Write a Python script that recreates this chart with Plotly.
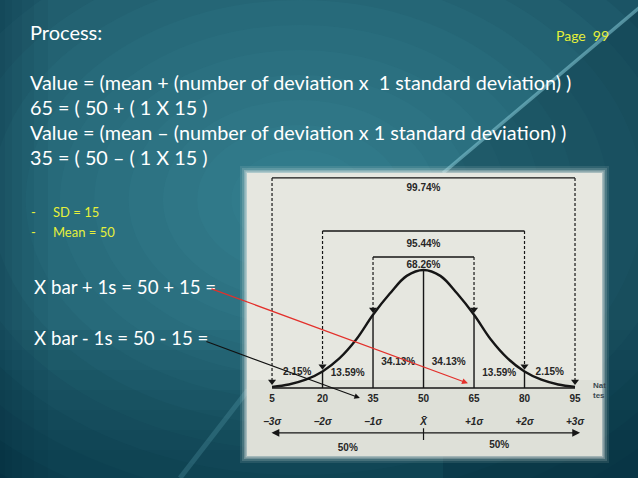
import plotly.graph_objects as go

W, H = 638, 478

# values
sd_x = [5, 20, 35, 50, 65, 80, 95]
sigma_labels = ['\u22123\u03c3', '\u22122\u03c3', '\u22121\u03c3', 'X\u0304', '+1\u03c3', '+2\u03c3', '+3\u03c3']
curve_x = [5, 10, 15, 20, 25, 30, 35, 40, 45, 50, 55, 60, 65, 70, 75, 80, 85, 90, 95]
curve_y = [0.01, 0.03, 0.07, 0.14, 0.25, 0.41, 0.62, 0.80, 0.95, 1.0,
           0.95, 0.80, 0.62, 0.41, 0.25, 0.14, 0.07, 0.03, 0.01]
band_labels = ['2.15%', '13.59%', '34.13%', '34.13%', '13.59%', '2.15%']
bracket_sd = [1, 2, 3]
bracket_labels = ['68.26%', '95.44%', '99.74%']
half_labels = ['50%', '50%']

mean, sd = 50, 15
height = dict(zip(curve_x, curve_y))

INK = '#161616'
TXT = '#262626'
CHART_FONT = 'Liberation Sans, Arial'
SLIDE_FONT = 'Lato, Open Sans, sans-serif'
YELLOW = '#e6f03a'


def px(x):
    return x / W


def py(y):
    return 1 - y / H


def chart_font(size=10):
    return dict(family=CHART_FONT, size=size, color=TXT)


fig = go.Figure()

# bell curve + baseline
fig.add_trace(go.Scatter(x=curve_x, y=curve_y, mode='lines',
                         line=dict(shape='spline', color=INK, width=2.4)))
fig.add_trace(go.Scatter(x=[sd_x[0], sd_x[-1]], y=[0, 0], mode='lines',
                         line=dict(color=INK, width=1.4)))

# solid lines under the curve at -2..+2 sd
vx, vy = [], []
for x in sd_x[1:-1]:
    vx += [x, x, None]
    vy += [0, height[x], None]
fig.add_trace(go.Scatter(x=vx, y=vy, mode='lines', line=dict(color=INK, width=1.4)))

# brackets with dashed drops and arrow tips
levels = [1.11, 1.33, 1.78]
label_y = [1.04, 1.22, 1.69]
bx, by, dx, dy, tx, ty = [], [], [], [], [], []
for k, lev in zip(bracket_sd, levels):
    lo, hi = mean - k * sd, mean + k * sd
    bx += [lo, hi, None]
    by += [lev, lev, None]
    for x in (lo, hi):
        dx += [x, x, None]
        dy += [lev, height[x] + 0.05, None]
        tx.append(x)
        ty.append(height[x] + 0.045)
fig.add_trace(go.Scatter(x=bx, y=by, mode='lines', line=dict(color=INK, width=1.3)))
fig.add_trace(go.Scatter(x=dx, y=dy, mode='lines',
                         line=dict(color=INK, width=1.2, dash='3px,2px')))
fig.add_trace(go.Scatter(x=tx, y=ty, mode='markers',
                         marker=dict(symbol='triangle-down', size=7, color=INK)))
fig.add_trace(go.Scatter(x=[mean] * 3, y=label_y, mode='text',
                         text=['<b>%s</b>' % t for t in bracket_labels],
                         textfont=chart_font(10)))

# band percentages
mids = [(a + b) / 2 for a, b in zip(sd_x[:-1], sd_x[1:])]
fig.add_trace(go.Scatter(x=mids, y=[0.13, 0.12, 0.22, 0.22, 0.12, 0.13], mode='text',
                         text=['<b>%s</b>' % t for t in band_labels],
                         textfont=chart_font(10)))

# raw score and sigma rows
fig.add_trace(go.Scatter(x=sd_x, y=[-0.10] * len(sd_x), mode='text',
                         text=['<b>%d</b>' % v for v in sd_x], textfont=chart_font(10)))
fig.add_trace(go.Scatter(x=sd_x, y=[-0.29] * len(sd_x), mode='text',
                         text=['<b><i>%s</i></b>' % s for s in sigma_labels],
                         textfont=chart_font(10)))

# 50% / 50% double arrow
fig.add_trace(go.Scatter(x=[mean, mean], y=[-0.34, -0.44], mode='lines',
                         line=dict(color=INK, width=1.2)))
fig.add_trace(go.Scatter(x=[(sd_x[0] + mean) / 2, (mean + sd_x[-1]) / 2], y=[-0.515, -0.49],
                         mode='text', text=['<b>%s</b>' % t for t in half_labels],
                         textfont=chart_font(10)))
fig.add_annotation(x=96.5, y=-0.38, ax=4.4, ay=-0.38, xref='x', yref='y', axref='x', ayref='y',
                   text='', showarrow=True, arrowside='end+start', arrowhead=2,
                   arrowsize=1.2, arrowwidth=1.3, arrowcolor=INK)

# cut-off side label of the photo
fig.add_annotation(x=px(591), y=py(402), xref='paper', yref='paper', xanchor='left',
                   text='<b>Nat<br>tes</b>', showarrow=False, align='left',
                   font=dict(family=CHART_FONT, size=8, color='#3a4a50'))

# slide background: dark teal with a soft light glow
shapes = []
for i in range(14):
    f = 1 - i / 14
    rx, ry = 480 * f, 350 * f
    shapes.append(dict(type='circle', x0=px(300 - rx), x1=px(300 + rx),
                       y0=py(200 + ry), y1=py(200 - ry),
                       fillcolor='#4aa9ba', opacity=0.065, line_width=0))
shapes.append(dict(type='path', path='M %f %f L %f %f L %f %f L %f %f L %f %f Z' % (
    px(652), py(-3), px(443), py(173), px(443), py(480), px(642), py(480), px(642), py(-3)),
    fillcolor='#0a3040', opacity=0.35, line_width=0))
for i in range(7):
    shapes.append(dict(type='rect', x0=0, x1=1, y0=0, y1=py(330 + 20 * i),
                       fillcolor='#072434', opacity=0.07, line_width=0))
for wdt in (48, 34, 22, 12, 5):
    shapes.append(dict(type='rect', x0=0, x1=px(wdt), y0=0, y1=1,
                       fillcolor='#072434', opacity=0.06, line_width=0))
shapes += [
    dict(type='line', x0=px(652), x1=px(443), y0=py(-3), y1=py(173),
         line=dict(color='#8fd3e0', width=3.5), opacity=0.5),
    dict(type='line', x0=px(248), x1=px(180), y0=py(390), y1=py(478),
         line=dict(color='#6fb8c8', width=5), opacity=0.22),
]
# photographed page with a soft glow
L, R, T, B = 247, 602, 173, 456
for pad, op in [(7, 0.1), (5, 0.16), (3, 0.26), (1.5, 0.42)]:
    shapes.append(dict(type='rect', x0=px(L - pad), x1=px(R + pad),
                       y0=py(B + pad), y1=py(T - pad),
                       fillcolor='#eef1ec', opacity=op, line_width=0))
shapes.append(dict(type='rect', x0=px(L), x1=px(R), y0=py(B), y1=py(T),
                   fillcolor='#e6e7e0', opacity=1, line_width=0))
shapes.append(dict(type='rect', x0=px(L), x1=px(R), y0=py(B), y1=py(380),
                   fillcolor='#c9ccbf', opacity=0.25, line_width=0))
for s in shapes:
    s.update(xref='paper', yref='paper', layer='below')
fig.update_layout(shapes=shapes)

# slide text
texts = [
    ('Process:', 28, 32, 20, 'white'),
    ('Value = (mean + (number of deviation x  1 standard deviation) )', 28, 82, 19.8, 'white'),
    ('65 = ( 50 + ( 1 X 15 )', 28, 107, 19.8, 'white'),
    ('Value = (mean \u2013 (number of deviation x 1 standard deviation) )', 28, 132, 19.8, 'white'),
    ('35 = ( 50 \u2013 ( 1 X 15 )', 28, 157, 19.8, 'white'),
    ('-', 29, 212, 13, YELLOW),
    ('SD = 15', 51, 212, 13, YELLOW),
    ('-', 29, 232, 13, YELLOW),
    ('Mean = 50', 51, 232, 13, YELLOW),
    ('X bar + 1s = 50 + 15 =', 32, 287, 18.7, 'white'),
    ('X bar - 1s = 50 - 15 =', 32, 338, 18.7, 'white'),
]
for t, x, y, size, color in texts:
    fig.add_annotation(x=px(x), y=py(y), xref='paper', yref='paper', xanchor='left',
                       yanchor='middle', text=t, showarrow=False,
                       font=dict(family=SLIDE_FONT, size=size, color=color))
fig.add_annotation(x=px(611), y=py(36), xref='paper', yref='paper', xanchor='right',
                   yanchor='middle', text='Page  99', showarrow=False,
                   font=dict(family=SLIDE_FONT, size=14, color=YELLOW))

# pointers from the worked sums to +1 sd and -1 sd
fig.add_annotation(x=63.2, y=0.04, xref='x', yref='y', ax=-258, ay=-95, text='',
                   showarrow=True, arrowhead=2, arrowsize=1, arrowwidth=1.2,
                   arrowcolor='#e3302b')
fig.add_annotation(x=31.1, y=-0.085, xref='x', yref='y', ax=-155, ay=-57, text='',
                   showarrow=True, arrowhead=2, arrowsize=1, arrowwidth=1.1,
                   arrowcolor='#111111')

fig.update_layout(
    width=W, height=H, margin=dict(l=0, r=0, t=0, b=0),
    paper_bgcolor='#15495b', plot_bgcolor='rgba(0,0,0,0)', showlegend=False,
    xaxis=dict(domain=[0.40, 0.94], range=[0, 102.34], visible=False, fixedrange=True),
    yaxis=dict(domain=[1 - 460 / H, 1 - 170 / H], range=[-0.610, 1.847], visible=False,
               fixedrange=True),
)

fig.write_html('out.html', config={'displayModeBar': False},
               post_script="document.body.style.margin='0';"
                           "document.body.style.overflow='hidden';")
